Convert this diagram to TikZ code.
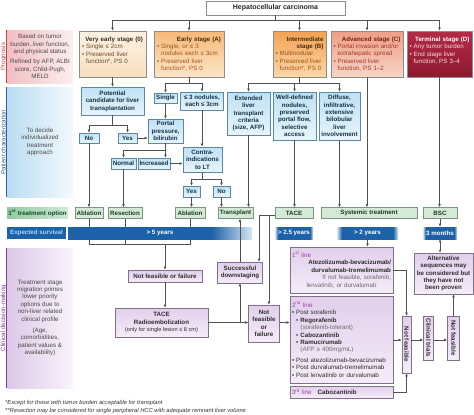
\documentclass[tikz,border=0pt]{standalone}
\usepackage{fontspec}
\setmainfont{Liberation Sans}
\usepackage{graphicx}
\usetikzlibrary{arrows.meta}
\definecolor{lineC}{HTML}{505050}
\definecolor{boxB}{HTML}{8C8C8C}
\definecolor{s0T}{HTML}{FDF2E3}\definecolor{s0B}{HTML}{F7DFC0}
\definecolor{s0ttl}{HTML}{3D2B1A}\definecolor{s0txt}{HTML}{6B4A2B}
\definecolor{sAT}{HTML}{F7B978}\definecolor{sAB}{HTML}{FDE5C8}
\definecolor{sAttl}{HTML}{4A2A0E}\definecolor{sAtxt}{HTML}{A0531A}
\definecolor{sBT}{HTML}{F4A252}\definecolor{sBB}{HTML}{FBD7A8}
\definecolor{sCT}{HTML}{EE9E86}\definecolor{sCB}{HTML}{F8D5C8}
\definecolor{sCttl}{HTML}{7A1F12}\definecolor{sCtxt}{HTML}{A83522}
\definecolor{sDT}{HTML}{B42B47}\definecolor{sDB}{HTML}{8C1A30}\definecolor{sDtxt}{HTML}{F6DDE1}
\definecolor{pcT}{HTML}{BFE1F5}\definecolor{pcB}{HTML}{E8F5FC}
\definecolor{pcBorder}{HTML}{5C87A6}\definecolor{pcText}{HTML}{14324A}
\definecolor{trFill}{HTML}{D4EAD7}\definecolor{trBorder}{HTML}{7A967F}\definecolor{trText}{HTML}{1F3A25}
\definecolor{cdT}{HTML}{E2CFEC}\definecolor{cdB}{HTML}{F4ECF8}\definecolor{cdBorder}{HTML}{80708A}
\definecolor{purp}{HTML}{9C3FA3}\definecolor{gray2}{HTML}{6A6A6A}\definecolor{cdText}{HTML}{2E2E2E}
\definecolor{barC}{HTML}{1D62A8}\definecolor{barL}{HTML}{D8E6F3}\definecolor{explT}{HTML}{A9D6F5}
\definecolor{bandPL}{HTML}{F2BFC3}\definecolor{bandPR}{HTML}{FCEEEF}\definecolor{labP}{HTML}{C63F4A}
\definecolor{bandCL}{HTML}{BADDF2}\definecolor{bandCR}{HTML}{F3F9FD}\definecolor{labC}{HTML}{2B5D9C}
\definecolor{bandDL}{HTML}{DCC8E7}\definecolor{bandDR}{HTML}{F9F4FB}\definecolor{labD}{HTML}{7E3D94}
\definecolor{ltL}{HTML}{8FCB9F}\definecolor{ltR}{HTML}{CFE9D6}\definecolor{ltText}{HTML}{1D4628}
\definecolor{txtG}{HTML}{4A4A4A}\definecolor{fnC}{HTML}{333333}
\pgfdeclarehorizontalshading{barboth}{100bp}{color(0bp)=(barL); color(25bp)=(barL); color(29bp)=(barC); color(71bp)=(barC); color(75bp)=(barL); color(100bp)=(barL)}
\pgfdeclarehorizontalshading{barright}{100bp}{color(0bp)=(barC); color(25bp)=(barC); color(64bp)=(barC); color(75bp)=(barL); color(100bp)=(barL)}
\newcommand\fs{\fontsize{6.2}{7.4}\selectfont}
\newcommand\ctr[1]{\hspace*{0pt plus 1filll}{#1}\hspace*{0pt plus 1filll}}
\newcommand\bul{\textbullet\ }
\newcommand\indt{\phantom{\textbullet\ }}
\begin{document}
\begin{tikzpicture}[x=1pt,y=-1pt,
  every node/.style={font=\fs, inner sep=1pt},
  ln/.style={draw=lineC, line width=0.6pt},
  ar/.style={ln, -{Latex[length=3.2pt,width=2.8pt]}},
  stg/.style={draw=boxB, line width=0.5pt, align=left, inner sep=2pt, text width=#1, minimum height=46pt},
  pcb/.style={draw=pcBorder, line width=0.5pt, top color=pcT, bottom color=pcB, font=\fs\bfseries, align=center, text=pcText},
  trb/.style={draw=trBorder, line width=0.5pt, fill=trFill, font=\fs\bfseries, minimum height=11pt, text=trText},
  cdb/.style={draw=cdBorder, line width=0.5pt, top color=cdT, bottom color=cdB, font=\fs\bfseries, align=center, text=cdText},
  cdl/.style={draw=cdBorder, line width=0.5pt, top color=cdT, bottom color=cdB, align=left, inner sep=2pt, text width=99pt, minimum width=103pt, text=cdText},
  band/.style={minimum width=66pt, align=center, text=txtG},
  vlab/.style={rotate=90, font=\fs},
  barn/.style={shade, shading=barboth, font=\fs\bfseries, text=white, minimum height=12pt, inner sep=0pt}
]
\useasboundingbox (0,0) rectangle (474,415);

% ---------- left bands ----------
\node[band, minimum height=53pt, left color=bandPL, right color=bandPR] (bandP) at (40,56.5)
  {Based on tumor\\burden, liver function,\\and physical status\\[3pt]Refined by AFP, ALBI\\score, Child-Pugh,\\MELD};
\node[band, minimum height=110pt, left color=bandCL, right color=bandCR] (bandC) at (40,142)
  {To decide\\individualized\\treatment\\approach};
\node[band, minimum height=140pt, left color=bandDL, right color=bandDR] (bandD) at (40,318)
  {Treatment stage\\migration primes\\lower priority\\options due to\\non-liver related\\clinical profile\\[4pt](Age,\\comorbidities,\\patient values \&\\availability)};
\draw[labP, line width=0.8pt] (bandP.north west) -- (bandP.south west);
\draw[labC, line width=0.8pt] (bandC.north west) -- (bandC.south west);
\draw[labD, line width=0.8pt] (bandD.north west) -- (bandD.south west);
\node[vlab, text=labP] (lp) at (3.5,56.5) {Prognosis};
\node[vlab, text=labC] (lc) at (3.5,142) {Patient characterization};
\node[vlab, text=labD] (ld) at (3.5,318) {Clinical decision-making};
\node[minimum width=61pt, minimum height=11pt, left color=ltL, right color=ltR, font=\fs\bfseries, text=ltText] (lt1) at (37.5,213)
  {1\textsuperscript{st} treatment option};

% ---------- top ----------
\node[draw=boxB, line width=0.5pt, fill=white, minimum width=139pt, minimum height=14pt, font=\fontsize{7}{8}\selectfont\bfseries, text=black!85] (hcc) at (275.5,8) {Hepatocellular carcinoma};

\node[stg=61pt, minimum width=67pt, top color=s0T, bottom color=s0B, text=s0txt] (s0) at (112.5,54)
  {\ctr{\color{s0ttl}\bfseries Very early stage (0)}\\\bul Single ≤ 2cm\\\bul Preserved liver\\\indt function*, PS 0\\\mbox{}};
\node[stg=64pt, minimum width=70pt, top color=sAT, bottom color=sAB, text=sAtxt] (sA) at (189,54)
  {\ctr{\color{sAttl}\bfseries Early stage (A)}\\\bul Single, or ≤ 3\\\indt nodules each ≤ 3cm\\\bul Preserved liver\\\indt function*, PS 0};
\node[stg=48pt, minimum width=53pt, top color=sBT, bottom color=sBB, text=sAtxt] (sB) at (299.5,54)
  {\ctr{\color{sAttl}\bfseries Intermediate}\\\ctr{\color{sAttl}\bfseries stage (B)}\\\bul Multinodular\\\bul Preserved liver\\\indt function*, PS 0};
\node[stg=67pt, minimum width=72pt, top color=sCT, bottom color=sCB, text=sCtxt] (sC) at (367,54)
  {\ctr{\color{sCttl}\bfseries Advanced stage (C)}\\\bul Portal invasion and/or\\\indt extrahepatic spread\\\bul Preserved liver\\\indt function, PS 1--2};
\node[stg=60pt, minimum width=65pt, top color=sDT, bottom color=sDB, text=sDtxt] (sD) at (439.5,54)
  {\ctr{\color{white}\bfseries Terminal stage (D)}\\\bul Any tumor burden\\\bul End stage liver\\\indt function, PS 3--4\\\mbox{}};

% ---------- patient characterization ----------
\node[pcb, minimum width=63pt, minimum height=28pt] (pot) at (112.5,101) {Potential\\candidate for liver\\transplantation};
\node[pcb, minimum width=20pt, minimum height=10pt] (no1) at (89,138) {No};
\node[pcb, minimum width=19pt, minimum height=10pt] (yes1) at (127.5,138) {Yes};
\node[pcb, minimum width=23pt, minimum height=10pt] (single) at (165.5,98) {Single};
\node[pcb, minimum width=43pt, minimum height=18pt] (le3) at (202,101) {≤ 3 nodules,\\each ≤ 3cm};
\node[pcb, minimum width=35pt, minimum height=24pt] (portal) at (165.5,131) {Portal\\pressure,\\bilirubin};
\node[pcb, minimum width=25pt, minimum height=11pt] (normal) at (123.5,163.5) {Normal};
\node[pcb, minimum width=32pt, minimum height=11pt] (incr) at (154,163.5) {Increased};
\node[pcb, minimum width=39pt, minimum height=25pt] (contra) at (202.5,159.5) {Contra-\\indications\\to LT};
\node[pcb, minimum width=17pt, minimum height=11pt] (yes2) at (191.5,191.5) {Yes};
\node[pcb, minimum width=17pt, minimum height=11pt] (no2) at (221.5,191.5) {No};
\node[pcb, minimum width=43pt, minimum height=43pt] (ext) at (248.5,113.5) {Extended\\liver\\transplant\\criteria\\(size, AFP)};
\node[pcb, minimum width=43pt, minimum height=48pt] (well) at (294.5,116) {Well-defined\\nodules,\\preserved\\portal flow,\\selective\\access};
\node[pcb, minimum width=41pt, minimum height=48pt] (diff) at (339.5,116) {Diffuse,\\infiltrative,\\extensive\\bilobular\\liver\\involvement};

% ---------- treatments ----------
\node[trb, minimum width=28pt] (abl1) at (89,213) {Ablation};
\node[trb, minimum width=34pt] (res) at (125,213) {Resection};
\node[trb, minimum width=30pt] (abl2) at (190,213) {Ablation};
\node[trb, minimum width=35pt] (trans) at (235.5,213) {Transplant};
\node[trb, minimum width=38pt] (tace) at (294,213) {TACE};
\node[trb, minimum width=96pt] (sys) at (369,213) {Systemic treatment};
\node[trb, minimum width=34pt] (bsc) at (440,213) {BSC};

% ---------- clinical decision ----------
\node[cdb, minimum width=74pt, minimum height=12pt] (nf1) at (165,276) {Not feasible or failure};
\node[cdb, minimum width=93pt, minimum height=29pt] (tr2) at (161.5,322.5) {TACE\\Radioembolization\\{\fontsize{5.6}{7}\selectfont\mdseries (only for single lesion ≤ 8 cm)}};
\node[cdb, minimum width=45pt, minimum height=21pt] (succ) at (240,272.5) {Successful\\downstaging};
\node[cdb, minimum width=31pt, minimum height=37pt] (nf2) at (264,323.5) {Not\\feasible\\or\\failure};
\node[cdl, minimum height=46pt] (l1) at (341.5,270)
  {{\color{purp}1\textsuperscript{st} line}\\\ctr{\bfseries Atezolizumab-bevacizumab/}\\\ctr{\bfseries durvalumab-tremelimumab}\\\ctr{\color{gray2}If not feasible, sorafenib,}\\\ctr{\color{gray2}lenvatinib, or durvalumab}};
\node[cdl, minimum height=87pt] (l2) at (341.5,339.5)
  {{\color{purp}2\textsuperscript{nd} line}\\\bul Post sorafenib\\\indt\bul\textbf{Regorafenib}\\\indt\indt{\color{gray2}(sorafenib-tolerant)}\\\indt\bul\textbf{Cabozantinib}\\\indt\bul\textbf{Ramucirumab}\\\indt\indt{\color{gray2}(AFP ≥ 400mg/mL)}\\[3pt]\bul Post atezolizumab-bevacizumab\\\bul Post durvalumab-tremelimumab\\\bul Post lenvatinib or durvalumab};
\node[cdl, minimum height=12pt, inner sep=1pt] (l3) at (341.5,392) {{\color{purp}3\textsuperscript{rd} line}\quad\textbf{Cabozantinib}};
\node[cdb, minimum width=9pt, minimum height=57pt] (nfv) at (406.5,344.5) {\rotatebox{-90}{Not feasible}};
\node[cdb, minimum width=10pt, minimum height=44pt] (ct) at (428.5,338) {\rotatebox{-90}{Clinical trials}};
\node[cdb, minimum width=12pt, minimum height=44pt] (nfv2) at (453.5,338) {\rotatebox{-90}{Not feasible}};
\node[cdb, minimum width=59pt, minimum height=41pt] (alt) at (443.5,273.5) {Alternative\\sequences may\\be considered but\\they have not\\been proven};

% ---------- connectors (top) ----------
\coordinate (ytop) at (0,20);
\draw[ln] (hcc.south) -- (hcc.south |- ytop);
\draw[ln] (s0.north |- ytop) -- (sD.north |- ytop);
\foreach \s in {s0,sA,sB,sC,sD} \draw[ar] (\s.north |- ytop) -- (\s.north);

\coordinate (ya) at (0,83);
\draw[ln] (sA.south) -- (sA.south |- ya);
\draw[ln] (single.north |- ya) -- (le3.north |- ya);
\draw[ar] (single.north |- ya) -- (single.north);
\draw[ar] (le3.north |- ya) -- (le3.north);
\draw[ln] (sB.south) -- (sB.south |- ya);
\draw[ln] (ext.north |- ya) -- (diff.north |- ya);
\foreach \s in {ext,well,diff} \draw[ar] (\s.north |- ya) -- (\s.north);

\draw[ar] (s0.south) -- (pot.north);
\coordinate (yp) at (0,125);
\draw[ln] (pot.south) -- (pot.south |- yp);
\draw[ln] (no1.north |- yp) -- (yes1.north |- yp);
\draw[ar] (no1.north |- yp) -- (no1.north);
\draw[ar] (yes1.north |- yp) -- (yes1.north);
\draw[ar] (yes1.east) -- (yes1.east -| portal.west);
\draw[ar] (single.south) -- (single.south |- portal.north);
\coordinate (yq) at (0,150);
\draw[ln] (portal.south) -- (portal.south |- yq);
\draw[ln] (normal.north |- yq) -- (portal.south |- yq);
\draw[ar] (normal.north |- yq) -- (normal.north);
\draw[ar] (portal.south |- yq) -- (portal.south |- incr.north);
\draw[ar] (incr.east) -- (incr.east -| contra.west);
\draw[ar] (le3.south) -- (le3.south |- contra.north);
\coordinate (yc) at (0,179);
\draw[ln] (contra.south) -- (contra.south |- yc);
\draw[ln] (yes2.north |- yc) -- (no2.north |- yc);
\draw[ar] (yes2.north |- yc) -- (yes2.north);
\draw[ar] (no2.north |- yc) -- (no2.north);

\draw[ar] (no1.south) -- (no1.south |- abl1.north);
\draw[ar] (normal.south) -- (normal.south |- res.north);
\draw[ar] (yes2.south) -- (yes2.south |- abl2.north);
\draw[ar] (no2.south) -- (no2.south |- trans.north);
\draw[ar] (ext.south) -- (ext.south |- trans.north);
\draw[ar] (well.south) -- (well.south |- tace.north);
\draw[ar] (diff.south) -- (diff.south |- sys.north);
\draw[ar] (sC.south) -- (sC.south |- sys.north);
\draw[ar] (sD.south) -- (sD.south |- bsc.north);

% ---------- connectors (lower) ----------
\coordinate (ys) at (0,244);
\draw[ln] (abl1.south) -- (abl1.south |- ys) -- (abl2.south |- ys) -- (abl2.south);
\draw[ln] (res.south) -- (res.south |- ys);
\draw[ar] (nf1.north |- ys) -- (nf1.north);
\draw[ar] (nf1.south) -- (nf1.south |- tr2.north);
\coordinate (tj) at (259,215);
\coordinate (tk) at (269,215);
\draw[ar] (tace.west |- tj) -- (tj) -- (tj |- succ.north);
\draw[ar] (tk) -- (tk |- nf2.north);
\draw[ar] (tr2.east) -- (tr2.east -| nf2.west);
\draw[ar] (succ.south |- tr2.east) -- (succ.south);
\draw[ar] (nf2.east |- tr2.east) -- (tr2.east -| l2.west);
\coordinate (yr) at (0,340);
\draw[ar] (l1.east) -- (l1.east -| nfv.north) -- (nfv.north);
\draw[ar] (l2.east |- yr) -- (nfv.west |- yr);
\draw[ar] (l3.east) -- (l3.east -| nfv.south) -- (nfv.south);
\draw[ar] (nfv.east |- yr) -- (ct.west |- yr);
\draw[ar] (ct.east |- yr) -- (nfv2.west |- yr);
\draw[ar] (nfv2.north) -- (nfv2.north |- alt.south);

% ---------- survival bars ----------
\node[minimum width=59pt, minimum height=12pt, fill=barC, font=\fs\bfseries, text=explT] (explbl) at (36.5,233) {Expected survival};
\node[barn, shading=barright, minimum width=184pt] (bar5) at (160,233) {> 5 years};
\node[barn, minimum width=38pt] (bar25) at (294,233) {> 2.5 years};
\node[barn, minimum width=61pt] (bar2) at (367.5,233) {> 2 years};
\node[barn, minimum width=34pt] (bar3) at (440,233) {3 months};

\draw[ar] (succ.north) -- (succ.north |- trans.south);
\draw[ar] (bar2.south) -- (bar2.south |- l1.north);
\draw[ar] (bsc.south) -- (bar3.north);
\draw[ln, {Latex[length=3pt,width=2.6pt]}-{Latex[length=3pt,width=2.6pt]}] (bar3.south) -- (bar3.south |- alt.north);

% ---------- footnotes ----------
\node[anchor=west, font=\fontsize{5.8}{7}\selectfont\itshape, text=fnC, inner sep=0pt] (fn1) at (5,403) {*Except for those with tumor burden acceptable for transplant};
\node[anchor=west, font=\fontsize{5.8}{7}\selectfont\itshape, text=fnC, inner sep=0pt] (fn2) at (5,410.5) {**Resection may be considered for single peripheral HCC with adequate remnant liver volume};
\end{tikzpicture}
\end{document}
